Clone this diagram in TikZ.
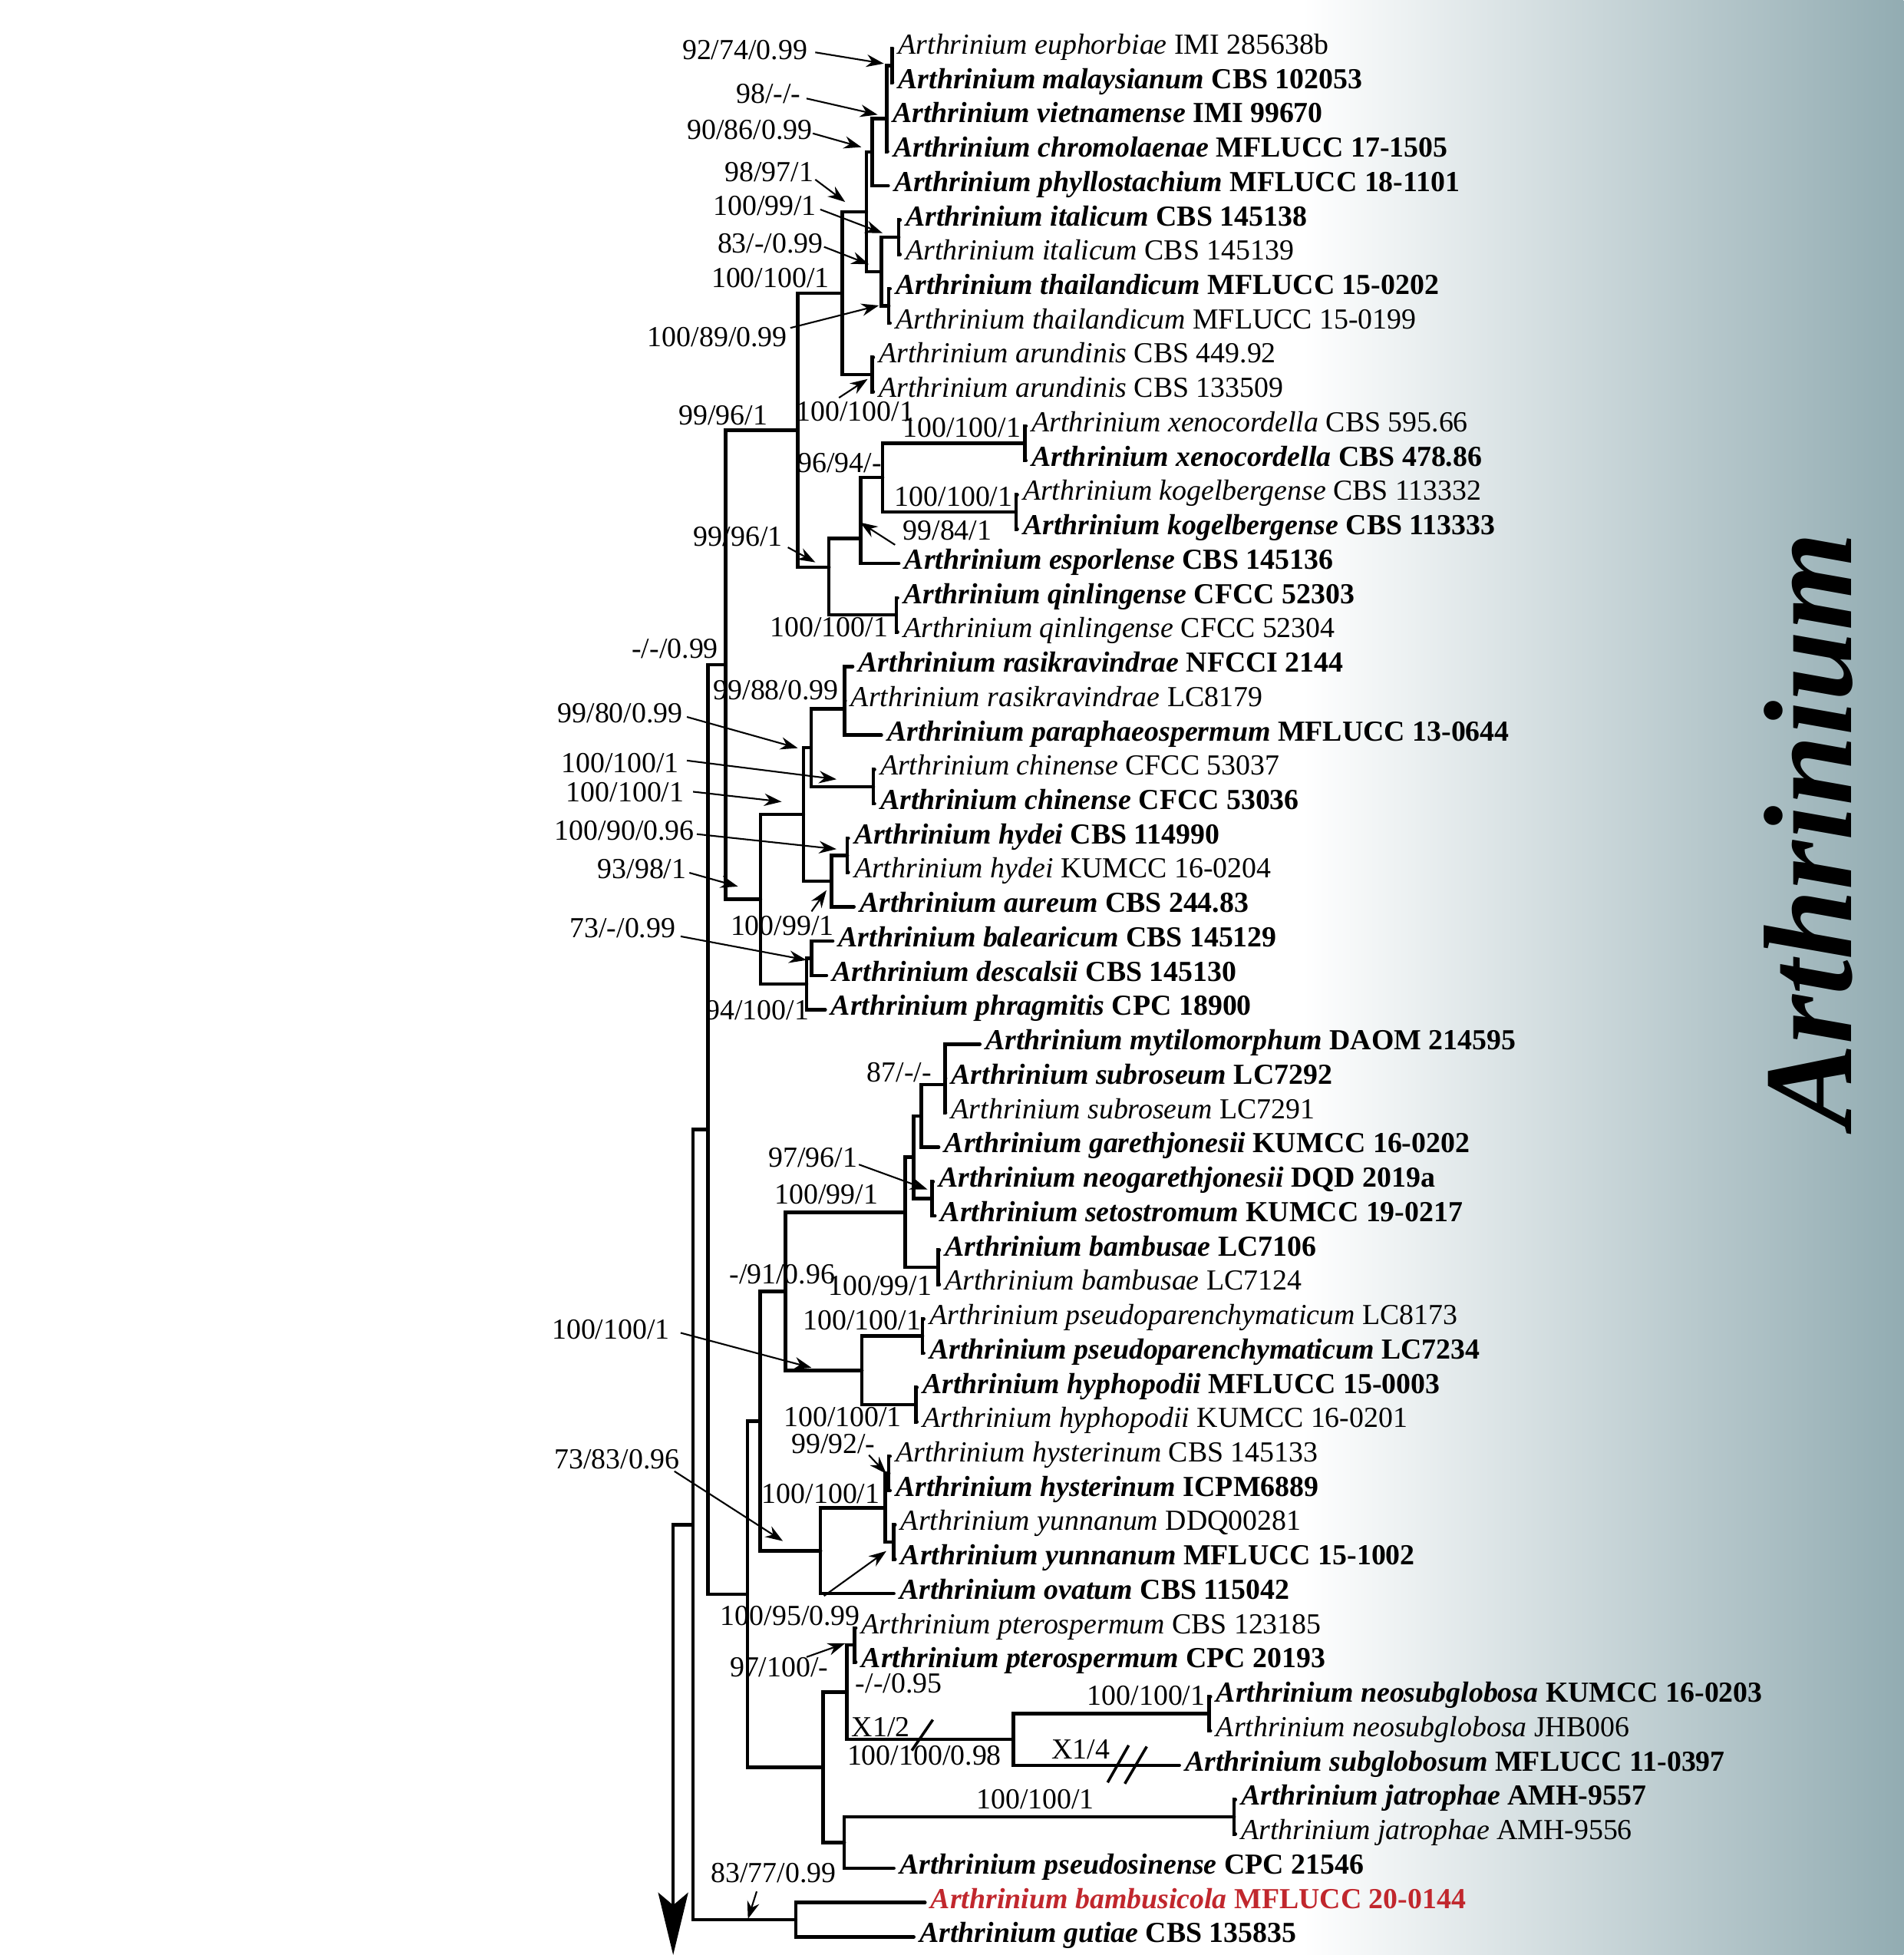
\documentclass[tikz,border=0pt]{standalone}
\usepackage{fontspec}
\setmainfont{Liberation Serif}
\usetikzlibrary{arrows.meta}
\definecolor{redlab}{RGB}{193,39,45}
\definecolor{gradR}{RGB}{146,172,178}
\newcommand\txn[2]{\textit{Arthrinium #1} #2}
\newcommand\txb[2]{\textbf{\textit{Arthrinium #1} #2}}
\begin{document}
\begin{tikzpicture}[x=1pt,y=-1pt,
  font=\fontsize{23.3}{28}\selectfont,
  br/.style={line width=2.8pt, line cap=round, line join=miter},
  ann/.style={line width=1.3pt, -{Stealth[length=14pt,width=10pt]}},
  lab/.style={anchor=base west, inner sep=0pt},
  bs/.style={inner sep=0pt, text height=15.7pt, text depth=0pt}]
\useasboundingbox (0,0) rectangle (1527,1568);
\fill[white] (0,0) rectangle (1527,1568);
\shade[left color=white, right color=gradR] (1045,0) rectangle (1527,1568);

% ---------- leaves ----------
\coordinate (l1) at (716,38.8);
\coordinate (l2) at (716,66.34);
\coordinate (l3) at (711.5,93.88);
\coordinate (l4) at (712,121.42);
\coordinate (l5) at (712.5,148.96);
\coordinate (l6) at (722,176.5);
\coordinate (l7) at (722,204.04);
\coordinate (l8) at (714,231.58);
\coordinate (l9) at (714,259.12);
\coordinate (l10) at (700.5,286.66);
\coordinate (l11) at (700.5,314.2);
\coordinate (l12) at (823,341.74);
\coordinate (l13) at (823,369.28);
\coordinate (l14) at (816,396.82);
\coordinate (l15) at (816,424.36);
\coordinate (l16) at (721,451.9);
\coordinate (l17) at (720,479.44);
\coordinate (l18) at (720,506.98);
\coordinate (l19) at (684,534.52);
\coordinate (l20) at (678,562.06);
\coordinate (l21) at (707,589.6);
\coordinate (l22) at (701.5,617.14);
\coordinate (l23) at (701.5,644.68);
\coordinate (l24) at (680.5,672.22);
\coordinate (l25) at (680.5,699.76);
\coordinate (l26) at (685,727.3);
\coordinate (l27) at (668,754.84);
\coordinate (l28) at (663,782.38);
\coordinate (l29) at (662,809.92);
\coordinate (l30) at (786,837.46);
\coordinate (l31) at (758.5,865.0);
\coordinate (l32) at (758.5,892.54);
\coordinate (l33) at (753,920.08);
\coordinate (l34) at (748.5,947.62);
\coordinate (l35) at (750,975.16);
\coordinate (l36) at (753.5,1002.7);
\coordinate (l37) at (753.5,1030.24);
\coordinate (l38) at (741,1057.78);
\coordinate (l39) at (741,1085.32);
\coordinate (l40) at (735.5,1112.86);
\coordinate (l41) at (735.5,1140.4);
\coordinate (l42) at (714,1167.94);
\coordinate (l43) at (714,1195.48);
\coordinate (l44) at (718,1223.02);
\coordinate (l45) at (718,1250.56);
\coordinate (l46) at (717,1278.1);
\coordinate (l47) at (686.5,1305.64);
\coordinate (l48) at (686.5,1333.18);
\coordinate (l49) at (971,1360.72);
\coordinate (l50) at (971,1388.26);
\coordinate (l51) at (946,1415.8);
\coordinate (l52) at (991,1443.34);
\coordinate (l53) at (991,1470.88);
\coordinate (l54) at (717,1498.42);
\coordinate (l55) at (742,1525.96);
\coordinate (l56) at (733,1553.5);

% ---------- internal nodes ----------
\coordinate (nEM) at (715.5,52.5);
\coordinate (nV) at (711.5,95);
\coordinate (nPp) at (699.5,122);
\coordinate (nIt) at (721,190.3);
\coordinate (nTh) at (713,245.4);
\coordinate (nI) at (707,217.8);
\coordinate (nA) at (695,169.9);
\coordinate (nAr) at (699.5,300.4);
\coordinate (nB) at (675.5,235.2);
\coordinate (nX) at (822,355.5);
\coordinate (nK) at (815,410.6);
\coordinate (nF) at (708,383);
\coordinate (nE) at (690.5,432);
\coordinate (nQ) at (719,493.2);
\coordinate (nD) at (665,455);
\coordinate (nC) at (640,345.1);
\coordinate (nRa) at (677.6,568.5);
\coordinate (nCh) at (700.6,630.9);
\coordinate (nR) at (650.6,599.7);
\coordinate (nHd) at (679.7,686);
\coordinate (nHy) at (667,706.6);
\coordinate (nJ) at (644.5,653.3);
\coordinate (nBD) at (651,768.6);
\coordinate (nBDP) at (647,789.3);
\coordinate (nH1) at (610,721.3);
\coordinate (nG1) at (582,533.2);
\coordinate (nS) at (758,870);
\coordinate (nG) at (739,895);
\coordinate (nNS) at (747.5,961.4);
\coordinate (nG2) at (733,928.2);
\coordinate (nBm) at (752.7,1016.5);
\coordinate (nH) at (726,972.3);
\coordinate (nPa) at (740,1071.6);
\coordinate (nHp) at (734.8,1126.6);
\coordinate (nP) at (691.4,1099.1);
\coordinate (nM2) at (630.2,1035.7);
\coordinate (nHs) at (713,1181.7);
\coordinate (nYu) at (717,1236.8);
\coordinate (nY1) at (710,1209.3);
\coordinate (nY) at (658.2,1243.7);
\coordinate (nM1) at (609.7,1139.7);
\coordinate (nPtr) at (685.5,1319.4);
\coordinate (nNeo) at (970,1374.5);
\coordinate (nSg) at (813,1395);
\coordinate (nPt2) at (679.5,1357.2);
\coordinate (nJat) at (990,1457.1);
\coordinate (nPs) at (677.3,1477.8);
\coordinate (nPt) at (660.3,1417.5);
\coordinate (nLow) at (599.5,1278.6);
\coordinate (nS568) at (568,905.9);
\coordinate (nBb) at (638.3,1539.7);
\coordinate (root) at (556,1222.8);
\coordinate (rootend) at (540,1568);

% ---------- branches ----------
\draw[br] (nEM) |- (l1); \draw[br] (nEM) |- (l2);
\draw[br] (nV) |- (nEM); \draw[br] (nV) |- (l3); \draw[br] (nV) |- (l4);
\draw[br] (nPp) |- (nV); \draw[br] (nPp) |- (l5);
\draw[br] (nIt) |- (l6); \draw[br] (nIt) |- (l7);
\draw[br] (nTh) |- (l8); \draw[br] (nTh) |- (l9);
\draw[br] (nI) |- (nIt); \draw[br] (nI) |- (nTh);
\draw[br] (nA) |- (nPp); \draw[br] (nA) |- (nI);
\draw[br] (nAr) |- (l10); \draw[br] (nAr) |- (l11);
\draw[br] (nB) |- (nA); \draw[br] (nB) |- (nAr);
\draw[br] (nX) |- (l12); \draw[br] (nX) |- (l13);
\draw[br] (nK) |- (l14); \draw[br] (nK) |- (l15);
\draw[br] (nF) |- (nX); \draw[br] (nF) |- (nK);
\draw[br] (nE) |- (nF); \draw[br] (nE) |- (l16);
\draw[br] (nQ) |- (l17); \draw[br] (nQ) |- (l18);
\draw[br] (nD) |- (nE); \draw[br] (nD) |- (nQ);
\draw[br] (nC) |- (nB); \draw[br] (nC) |- (nD);
\draw[br] (nRa) |- (l19); \draw[br] (nRa) |- (l20); \draw[br] (nRa) |- (l21);
\draw[br] (nCh) |- (l22); \draw[br] (nCh) |- (l23);
\draw[br] (nR) |- (nRa); \draw[br] (nR) |- (nCh);
\draw[br] (nHd) |- (l24); \draw[br] (nHd) |- (l25);
\draw[br] (nHy) |- (nHd); \draw[br] (nHy) |- (l26);
\draw[br] (nJ) |- (nR); \draw[br] (nJ) |- (nHy);
\draw[br] (nBD) |- (l27); \draw[br] (nBD) |- (l28);
\draw[br] (nBDP) |- (nBD); \draw[br] (nBDP) |- (l29);
\draw[br] (nH1) |- (nJ); \draw[br] (nH1) |- (nBDP);
\draw[br] (nG1) |- (nC); \draw[br] (nG1) |- (nH1);
\draw[br] (nS) |- (l30); \draw[br] (nS) |- (l31); \draw[br] (nS) |- (l32);
\draw[br] (nG) |- (nS); \draw[br] (nG) |- (l33);
\draw[br] (nNS) |- (l34); \draw[br] (nNS) |- (l35);
\draw[br] (nG2) |- (nG); \draw[br] (nG2) |- (nNS);
\draw[br] (nBm) |- (l36); \draw[br] (nBm) |- (l37);
\draw[br] (nH) |- (nG2); \draw[br] (nH) |- (nBm);
\draw[br] (nPa) |- (l38); \draw[br] (nPa) |- (l39);
\draw[br] (nHp) |- (l40); \draw[br] (nHp) |- (l41);
\draw[br] (nP) |- (nPa); \draw[br] (nP) |- (nHp);
\draw[br] (nM2) |- (nH); \draw[br] (nM2) |- (nP);
\draw[br] (nHs) |- (l42); \draw[br] (nHs) |- (l43);
\draw[br] (nYu) |- (l44); \draw[br] (nYu) |- (l45);
\draw[br] (nY1) |- (nHs); \draw[br] (nY1) |- (nYu);
\draw[br] (nY) |- (nY1); \draw[br] (nY) |- (l46);
\draw[br] (nM1) |- (nM2); \draw[br] (nM1) |- (nY);
\draw[br] (nPtr) |- (l47); \draw[br] (nPtr) |- (l48);
\draw[br] (nNeo) |- (l49); \draw[br] (nNeo) |- (l50);
\draw[br] (nSg) |- (nNeo); \draw[br] (nSg) |- (l51);
\draw[br] (nPt2) |- (nPtr); \draw[br] (nPt2) |- (nSg);
\draw[br] (nJat) |- (l52); \draw[br] (nJat) |- (l53);
\draw[br] (nPs) |- (nJat); \draw[br] (nPs) |- (l54);
\draw[br] (nPt) |- (nPt2); \draw[br] (nPt) |- (nPs);
\draw[br] (nLow) |- (nM1); \draw[br] (nLow) |- (nPt);
\draw[br] (nS568) |- (nG1); \draw[br] (nS568) |- (nLow);
\draw[br] (nBb) |- (l55); \draw[br] (nBb) |- (l56);
\draw[br] (root) |- (nS568); \draw[br] (root) |- (nBb);
\draw[line width=2.8pt, -{Stealth[length=50pt,width=24pt,inset=10pt]}] (root) -| (rootend);

% ---------- break marks ----------
\coordinate (k1a) at (748.3,1379.3); \coordinate (k1b) at (731.4,1404);
\coordinate (k2a) at (905.4,1399.8); \coordinate (k2b) at (888.5,1429.6);
\coordinate (k3a) at (919.9,1400.8); \coordinate (k3b) at (902.3,1430.6);
\draw[line width=2.2pt] (k1a) -- (k1b);
\draw[line width=2.2pt] (k2a) -- (k2b);
\draw[line width=2.2pt] (k3a) -- (k3b);

% ---------- taxon labels ----------
\node[lab] (t1) at ([shift={(4.5,4.5)}]l1) {\txn{euphorbiae}{IMI 285638b}};
\node[lab] (t2) at ([shift={(4.5,4.5)}]l2) {\txb{malaysianum}{CBS 102053}};
\node[lab] (t3) at ([shift={(4.5,4.5)}]l3) {\txb{vietnamense}{IMI 99670}};
\node[lab] (t4) at ([shift={(4.5,4.5)}]l4) {\txb{chromolaenae}{MFLUCC 17-1505}};
\node[lab] (t5) at ([shift={(4.5,4.5)}]l5) {\txb{phyllostachium}{MFLUCC 18-1101}};
\node[lab] (t6) at ([shift={(4.5,4.5)}]l6) {\txb{italicum}{CBS 145138}};
\node[lab] (t7) at ([shift={(4.5,4.5)}]l7) {\txn{italicum}{CBS 145139}};
\node[lab] (t8) at ([shift={(4.5,4.5)}]l8) {\txb{thailandicum}{MFLUCC 15-0202}};
\node[lab] (t9) at ([shift={(4.5,4.5)}]l9) {\txn{thailandicum}{MFLUCC 15-0199}};
\node[lab] (t10) at ([shift={(4.5,4.5)}]l10) {\txn{arundinis}{CBS 449.92}};
\node[lab] (t11) at ([shift={(4.5,4.5)}]l11) {\txn{arundinis}{CBS 133509}};
\node[lab] (t12) at ([shift={(4.5,4.5)}]l12) {\txn{xenocordella}{CBS 595.66}};
\node[lab] (t13) at ([shift={(4.5,4.5)}]l13) {\txb{xenocordella}{CBS 478.86}};
\node[lab] (t14) at ([shift={(4.5,4.5)}]l14) {\txn{kogelbergense}{CBS 113332}};
\node[lab] (t15) at ([shift={(4.5,4.5)}]l15) {\txb{kogelbergense}{CBS 113333}};
\node[lab] (t16) at ([shift={(4.5,4.5)}]l16) {\txb{esporlense}{CBS 145136}};
\node[lab] (t17) at ([shift={(4.5,4.5)}]l17) {\txb{qinlingense}{CFCC 52303}};
\node[lab] (t18) at ([shift={(4.5,4.5)}]l18) {\txn{qinlingense}{CFCC 52304}};
\node[lab] (t19) at ([shift={(4.5,4.5)}]l19) {\txb{rasikravindrae}{NFCCI 2144}};
\node[lab] (t20) at ([shift={(4.5,4.5)}]l20) {\txn{rasikravindrae}{LC8179}};
\node[lab] (t21) at ([shift={(4.5,4.5)}]l21) {\txb{paraphaeospermum}{MFLUCC 13-0644}};
\node[lab] (t22) at ([shift={(4.5,4.5)}]l22) {\txn{chinense}{CFCC 53037}};
\node[lab] (t23) at ([shift={(4.5,4.5)}]l23) {\txb{chinense}{CFCC 53036}};
\node[lab] (t24) at ([shift={(4.5,4.5)}]l24) {\txb{hydei}{CBS 114990}};
\node[lab] (t25) at ([shift={(4.5,4.5)}]l25) {\txn{hydei}{KUMCC 16-0204}};
\node[lab] (t26) at ([shift={(4.5,4.5)}]l26) {\txb{aureum}{CBS 244.83}};
\node[lab] (t27) at ([shift={(4.5,4.5)}]l27) {\txb{balearicum}{CBS 145129}};
\node[lab] (t28) at ([shift={(4.5,4.5)}]l28) {\txb{descalsii}{CBS 145130}};
\node[lab] (t29) at ([shift={(4.5,4.5)}]l29) {\txb{phragmitis}{CPC 18900}};
\node[lab] (t30) at ([shift={(4.5,4.5)}]l30) {\txb{mytilomorphum}{DAOM 214595}};
\node[lab] (t31) at ([shift={(4.5,4.5)}]l31) {\txb{subroseum}{LC7292}};
\node[lab] (t32) at ([shift={(4.5,4.5)}]l32) {\txn{subroseum}{LC7291}};
\node[lab] (t33) at ([shift={(4.5,4.5)}]l33) {\txb{garethjonesii}{KUMCC 16-0202}};
\node[lab] (t34) at ([shift={(4.5,4.5)}]l34) {\txb{neogarethjonesii}{DQD 2019a}};
\node[lab] (t35) at ([shift={(4.5,4.5)}]l35) {\txb{setostromum}{KUMCC 19-0217}};
\node[lab] (t36) at ([shift={(4.5,4.5)}]l36) {\txb{bambusae}{LC7106}};
\node[lab] (t37) at ([shift={(4.5,4.5)}]l37) {\txn{bambusae}{LC7124}};
\node[lab] (t38) at ([shift={(4.5,4.5)}]l38) {\txn{pseudoparenchymaticum}{LC8173}};
\node[lab] (t39) at ([shift={(4.5,4.5)}]l39) {\txb{pseudoparenchymaticum}{LC7234}};
\node[lab] (t40) at ([shift={(4.5,4.5)}]l40) {\txb{hyphopodii}{MFLUCC 15-0003}};
\node[lab] (t41) at ([shift={(4.5,4.5)}]l41) {\txn{hyphopodii}{KUMCC 16-0201}};
\node[lab] (t42) at ([shift={(4.5,4.5)}]l42) {\txn{hysterinum}{CBS 145133}};
\node[lab] (t43) at ([shift={(4.5,4.5)}]l43) {\txb{hysterinum}{ICPM6889}};
\node[lab] (t44) at ([shift={(4.5,4.5)}]l44) {\txn{yunnanum}{DDQ00281}};
\node[lab] (t45) at ([shift={(4.5,4.5)}]l45) {\txb{yunnanum}{MFLUCC 15-1002}};
\node[lab] (t46) at ([shift={(4.5,4.5)}]l46) {\txb{ovatum}{CBS 115042}};
\node[lab] (t47) at ([shift={(4.5,4.5)}]l47) {\txn{pterospermum}{CBS 123185}};
\node[lab] (t48) at ([shift={(4.5,4.5)}]l48) {\txb{pterospermum}{CPC 20193}};
\node[lab] (t49) at ([shift={(4.5,4.5)}]l49) {\txb{neosubglobosa}{KUMCC 16-0203}};
\node[lab] (t50) at ([shift={(4.5,4.5)}]l50) {\txn{neosubglobosa}{JHB006}};
\node[lab] (t51) at ([shift={(4.5,4.5)}]l51) {\txb{subglobosum}{MFLUCC 11-0397}};
\node[lab] (t52) at ([shift={(4.5,4.5)}]l52) {\txb{jatrophae}{AMH-9557}};
\node[lab] (t53) at ([shift={(4.5,4.5)}]l53) {\txn{jatrophae}{AMH-9556}};
\node[lab] (t54) at ([shift={(4.5,4.5)}]l54) {\txb{pseudosinense}{CPC 21546}};
\node[lab, text=redlab] (t55) at ([shift={(4.5,4.5)}]l55) {\txb{bambusicola}{MFLUCC 20-0144}};
\node[lab] (t56) at ([shift={(4.5,4.5)}]l56) {\txb{gutiae}{CBS 135835}};

% ---------- support values ----------
\node[bs] (s1) at (597.5,40) {92/74/0.99};
\node[bs] (s2) at (616.5,75) {98/-/-};
\node[bs] (s3) at (601.5,104) {90/86/0.99};
\node[bs] (s4) at (617,138) {98/97/1};
\node[bs] (s5) at (613.5,165) {100/99/1};
\node[bs] (s6) at (618,195) {83/-/0.99};
\node[bs] (s7) at (618,223) {100/100/1};
\node[bs] (s8) at (575.5,270) {100/89/0.99};
\node[bs] (s9) at (580,333) {99/96/1};
\node[bs] (s10) at (686,330) {100/100/1};
\node[bs] (s11) at (771.5,343) {100/100/1};
\node[bs] (s12) at (673.5,371) {96/94/-};
\node[bs] (s13) at (765,398) {100/100/1};
\node[bs] (s14) at (760,425) {99/84/1};
\node[bs] (s15) at (592,430) {99/96/1};
\node[bs] (s16) at (665,503) {100/100/1};
\node[bs] (s17) at (541.5,520) {-/-/0.99};
\node[bs] (s18) at (622.5,553) {99/88/0.99};
\node[bs] (s19) at (497.5,572) {99/80/0.99};
\node[bs] (s20) at (497.5,612) {100/100/1};
\node[bs] (s21) at (501.5,635) {100/100/1};
\node[bs] (s22) at (501,666) {100/90/0.96};
\node[bs] (s23) at (515,697) {93/98/1};
\node[bs] (s24) at (627.5,742) {100/99/1};
\node[bs] (s25) at (499.5,744) {73/-/0.99};
\node[bs] (s26) at (607.5,810) {94/100/1};
\node[bs] (s27) at (721.5,860) {87/-/-};
\node[bs] (s28) at (652,928) {97/96/1};
\node[bs] (s29) at (663,958) {100/99/1};
\node[bs] (s30) at (627.5,1022) {-/91/0.96};
\node[bs] (s31) at (706,1031) {100/99/1};
\node[bs] (s32) at (691.5,1059) {100/100/1};
\node[bs] (s33) at (490,1066) {100/100/1};
\node[bs] (s34) at (676,1136) {100/100/1};
\node[bs] (s35) at (668.5,1158) {99/92/-};
\node[bs] (s36) at (495,1170) {73/83/0.96};
\node[bs] (s37) at (658.5,1198) {100/100/1};
\node[bs] (s38) at (634,1296) {100/95/0.99};
\node[bs] (s39) at (625,1337) {97/100/-};
\node[bs] (s40) at (721,1350) {-/-/0.95};
\node[bs] (s41) at (706.5,1385) {X1/2};
\node[bs] (s42) at (741.5,1408) {100/100/0.98};
\node[bs] (s43) at (867,1403) {X1/4};
\node[bs] (s44) at (919.5,1360) {100/100/1};
\node[bs] (s45) at (830.5,1443) {100/100/1};
\node[bs] (s46) at (620.5,1502) {83/77/0.99};

% ---------- pointer arrows ----------
\coordinate (a1s) at (654,42);   \coordinate (a1e) at (709,51);
\coordinate (a2s) at (647,79);   \coordinate (a2e) at (704,92);
\coordinate (a3s) at (652,107);  \coordinate (a3e) at (691,118);
\coordinate (a4s) at (654,144);  \coordinate (a4e) at (678,162);
\coordinate (a5s) at (658,168);  \coordinate (a5e) at (708,187);
\coordinate (a6s) at (661,198);  \coordinate (a6e) at (697,212);
\coordinate (a8s) at (634,263);  \coordinate (a8e) at (705,245);
\coordinate (a10s) at (673,319); \coordinate (a10e) at (696,304);
\coordinate (a14s) at (718,437); \coordinate (a14e) at (690,419);
\coordinate (a15s) at (632,439); \coordinate (a15e) at (654,451);
\coordinate (a19s) at (551,575); \coordinate (a19e) at (640,600);
\coordinate (a20s) at (551,610); \coordinate (a20e) at (671,625);
\coordinate (a21s) at (556,635); \coordinate (a21e) at (627,643);
\coordinate (a22s) at (559,669); \coordinate (a22e) at (671,681);
\coordinate (a23s) at (553,700); \coordinate (a23e) at (592,711);
\coordinate (a24s) at (651,731); \coordinate (a24e) at (663,714);
\coordinate (a25s) at (546,751); \coordinate (a25e) at (647,770);
\coordinate (a28s) at (689,934); \coordinate (a28e) at (744,954);
\coordinate (a33s) at (546,1069); \coordinate (a33e) at (651,1097);
\coordinate (a35s) at (697,1167); \coordinate (a35e) at (711,1182);
\coordinate (a36s) at (541,1180); \coordinate (a36e) at (628,1236);
\coordinate (a38s) at (661,1280); \coordinate (a38e) at (711,1244);
\coordinate (a39s) at (647,1329); \coordinate (a39e) at (678,1318);
\coordinate (a46s) at (607,1517); \coordinate (a46e) at (600,1539);
\foreach \k in {1,2,3,4,5,6,8,10,14,15,19,20,21,22,23,24,25,28,33,35,36,38,39,46}
  {\draw[ann] (a\k s) -- (a\k e);}

% ---------- genus label ----------
\node[rotate=90, anchor=base, inner sep=0pt,
      font=\fontsize{101}{110}\selectfont\bfseries\itshape] (genus) at (1485,666) {Arthrinium};
\end{tikzpicture}
\end{document}
